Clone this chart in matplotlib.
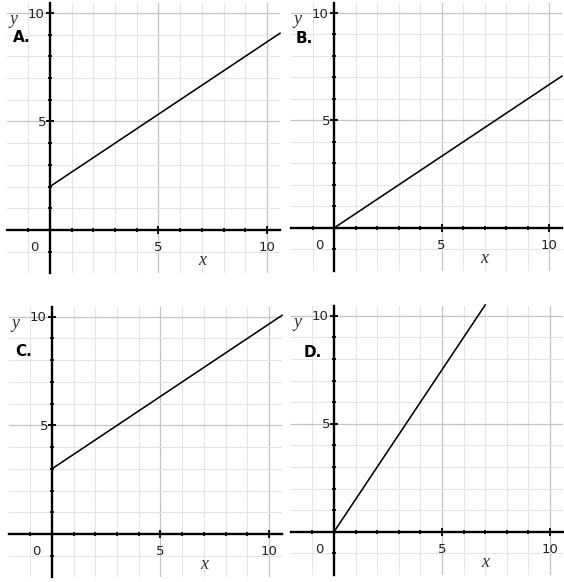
import numpy as np
import matplotlib
matplotlib.use("Agg")
import matplotlib.pyplot as plt

# four panels: y = intercept + slope * x, drawn from x=0 to x_end
panel_names = ["A.", "B.", "C.", "D."]
intercepts = [2.0, 0.0, 3.0, 0.0]
slopes = [2 / 3, 2 / 3, 2 / 3, 1.5]
x_ends = [10.6, 10.6, 10.6, 7.0]
# where the panel letter sits (data coords, left edge / centre)
name_pos = [(-1.7, 8.85), (-1.8, 8.8), (-1.7, 8.4), (-1.4, 8.3)]

# axes positions in pixels: left, right, top, bottom
px_boxes = [
    (6.6, 280.0, 3.2, 273.3),
    (291.0, 562.0, 3.3, 271.0),
    (8.6, 282.0, 307.0, 577.4),
    (290.8, 563.0, 306.0, 575.0),
]

W, H = 564, 582
fig = plt.figure(figsize=(W / 100, H / 100), dpi=100)

for name, b, m, xe, npos, (l, r, t, bt) in zip(panel_names, intercepts, slopes,
                                              x_ends, name_pos, px_boxes):
    ax = fig.add_axes([l / W, 1 - bt / H, (r - l) / W, (bt - t) / H])
    ax.set_xlim(-2, 10.6)
    ax.set_ylim(-2, 10.45)

    for s in ["top", "right"]:
        ax.spines[s].set_visible(False)
    ax.spines["left"].set_position(("data", 0))
    ax.spines["bottom"].set_position(("data", 0))
    ax.spines["left"].set_linewidth(1.7)
    ax.spines["bottom"].set_linewidth(1.7)

    ax.set_xticks([5, 10])
    ax.set_yticks([5, 10])
    ax.set_xticks([i for i in range(-1, 11) if i not in (0, 5, 10)], minor=True)
    ax.set_yticks([i for i in range(-1, 11) if i not in (0, 5, 10)], minor=True)
    ax.tick_params(which="both", direction="inout", labelbottom=False, labelleft=False)
    ax.tick_params(which="major", length=6, width=1.3)
    ax.tick_params(which="minor", length=3.5, width=1.3)
    ax.grid(which="minor", color="#e4e4e4", linewidth=0.8)
    ax.grid(which="major", color="#c4c4c4", linewidth=0.9)
    ax.set_axisbelow(True)

    xs = np.array([0, xe])
    ax.plot(xs, b + m * xs, color="black", linewidth=1.15, clip_on=False)

    tk = dict(fontsize=9.5, family="DejaVu Sans", color="#222222")
    ax.text(-0.7, -0.8, "0", ha="center", va="center", **tk)
    ax.text(5, -0.8, "5", ha="center", va="center", **tk)
    ax.text(10, -0.8, "10", ha="center", va="center", **tk)
    ax.text(-0.15, 4.95, "5", ha="right", va="center", **tk)
    ax.text(-0.25, 9.95, "10", ha="right", va="center", **tk)

    ax.text(-1.7, 9.7, "y", fontsize=13, style="italic", family="Liberation Serif",
            ha="center", va="center", color="#333333")
    ax.text(npos[0], npos[1], name, fontsize=11, fontweight="bold",
            family="DejaVu Sans", ha="left", va="center")
    ax.text(7.0, -1.4, "x", fontsize=13, style="italic", family="Liberation Serif",
            ha="center", va="center", color="#333333")

fig.savefig("out.png", dpi=100)
